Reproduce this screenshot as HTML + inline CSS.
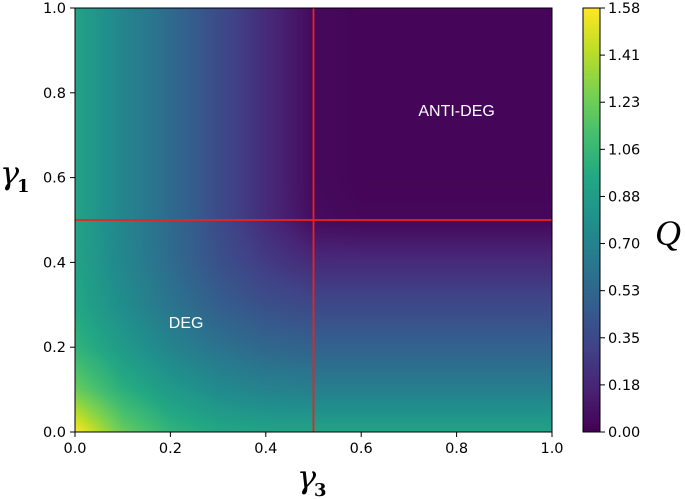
<!DOCTYPE html>
<html><head><meta charset="utf-8"><style>
body{margin:0;background:#fff;width:685px;height:499px;overflow:hidden;position:relative;font-family:"DejaVu Sans","Liberation Sans",sans-serif}
canvas,svg{position:absolute;left:0;top:0}
</style></head><body>
<canvas id="hm" width="685" height="499"></canvas>
<svg id="ov" width="685" height="499"></svg>
<script>
const gammaVals=[0,0.1,0.2,0.3,0.4,0.5,0.6,0.7,0.8,0.9,1.0];
// rows: gamma1 = 0..1 ; cols: gamma3 = 0..1
const qRow0 =[1.58,1.22,1.03,0.95,0.92,0.92,0.92,0.92,0.92,0.92,0.92];
const qRow1 =[1.22,1.00,0.86,0.76,0.70,0.68,0.68,0.68,0.68,0.68,0.68];
const qRow2 =[1.03,0.86,0.71,0.60,0.53,0.50,0.50,0.50,0.50,0.50,0.50];
const qRow3 =[0.95,0.77,0.61,0.48,0.39,0.35,0.35,0.35,0.35,0.35,0.35];
const qRow4 =[0.92,0.73,0.56,0.40,0.28,0.20,0.20,0.20,0.20,0.20,0.20];
const qRow5 =[0.92,0.72,0.55,0.37,0.20,0.05,0.03,0.03,0.03,0.03,0.03];
const qRow6 =[0.92,0.72,0.55,0.37,0.20,0.04,0.02,0.02,0.02,0.02,0.02];
const qRow7 =[0.92,0.72,0.55,0.37,0.20,0.04,0.02,0.02,0.02,0.02,0.02];
const qRow8 =[0.92,0.72,0.55,0.37,0.20,0.04,0.02,0.02,0.02,0.02,0.02];
const qRow9 =[0.92,0.72,0.55,0.37,0.20,0.04,0.02,0.02,0.02,0.02,0.02];
const qRow10=[0.92,0.72,0.55,0.37,0.20,0.04,0.02,0.02,0.02,0.02,0.02];
const qGrid=[qRow0,qRow1,qRow2,qRow3,qRow4,qRow5,qRow6,qRow7,qRow8,qRow9,qRow10];
const axisTicks=[0,0.2,0.4,0.6,0.8,1.0];
const axisTickLabels=["0.0","0.2","0.4","0.6","0.8","1.0"];
const cbarTickLabels=["0.00","0.18","0.35","0.53","0.70","0.88","1.06","1.23","1.41","1.58"];
const qMin=0,qMax=1.58;

const X0=75,X1=552,Y0=8,Y1=432;
const xs=v=>X0+v*(X1-X0), ys=v=>Y1-v*(Y1-Y0);
const vir=[[68,1,84],[72,35,116],[64,67,135],[52,94,141],[41,120,142],[32,144,140],[34,167,132],[68,190,112],[121,209,81],[189,222,38],[253,231,37]];
function cmap(t){t=Math.max(0,Math.min(1,t));const p=t*10,i=Math.min(9,Math.floor(p)),f=p-i;
 return vir[i].map((c,k)=>Math.round(c+(vir[i+1][k]-c)*f));}
function qAt(a,b){
 const n=gammaVals.length-1;const fx=a*n,fy=b*n;const i=Math.min(n-1,Math.floor(fx)),j=Math.min(n-1,Math.floor(fy));
 const tx=fx-i,ty=fy-j;
 return qGrid[j][i]*(1-tx)*(1-ty)+qGrid[j][i+1]*tx*(1-ty)+qGrid[j+1][i]*(1-tx)*ty+qGrid[j+1][i+1]*tx*ty;}
const ctx=document.getElementById('hm').getContext('2d');
const W=X1-X0,H=Y1-Y0,img=ctx.createImageData(W,H);
for(let y=0;y<H;y++)for(let x=0;x<W;x++){const c=cmap((qAt((x+0.5)/W,1-(y+0.5)/H)-qMin)/(qMax-qMin));const o=(y*W+x)*4;img.data[o]=c[0];img.data[o+1]=c[1];img.data[o+2]=c[2];img.data[o+3]=255;}
ctx.putImageData(img,X0,Y0);
const CX0=583,CX1=600,cb=ctx.createImageData(CX1-CX0,H);
for(let y=0;y<H;y++){const c=cmap(1-(y+0.5)/H);for(let x=0;x<CX1-CX0;x++){const o=(y*(CX1-CX0)+x)*4;cb.data[o]=c[0];cb.data[o+1]=c[1];cb.data[o+2]=c[2];cb.data[o+3]=255;}}
ctx.putImageData(cb,CX0,Y0);

const svg=document.getElementById('ov'),NS='http://www.w3.org/2000/svg';
function mk(t,a,txt){const e=document.createElementNS(NS,t);for(const k in a)e.setAttribute(k,a[k]);if(txt!==undefined)e.textContent=txt;svg.appendChild(e);return e;}
let e;
e=mk('line',{x1:xs(0.5),x2:xs(0.5),y1:Y0,y2:Y1,stroke:'#f2201a','stroke-width':1.8});

e=mk('line',{x1:X0,x2:X1,y1:ys(0.5),y2:ys(0.5),stroke:'#f2201a','stroke-width':1.8});

e=mk('rect',{x:X0,y:Y0,width:W,height:H,fill:'none',stroke:'#000','stroke-width':1});

e=mk('rect',{x:CX0,y:Y0,width:CX1-CX0,height:H,fill:'none',stroke:'#000','stroke-width':1});

axisTicks.forEach((v,i)=>{
 e=mk('line',{x1:xs(v),x2:xs(v),y1:Y1,y2:Y1+5,stroke:'#000'});
 
 e=mk('text',{x:xs(v),y:Y1+21,'text-anchor':'middle','font-size':14.5},axisTickLabels[i]);
 
 e=mk('line',{x1:X0-5,x2:X0,y1:ys(v),y2:ys(v),stroke:'#000'});
 
 e=mk('text',{x:X0-9,y:ys(v)+5,'text-anchor':'end','font-size':14.5},axisTickLabels[i]);
 
});
cbarTickLabels.forEach((l,i)=>{
 const y=Y1-i/(cbarTickLabels.length-1)*H;
 e=mk('line',{x1:CX1,x2:CX1+5,y1:y,y2:y,stroke:'#000'});
 
 e=mk('text',{x:CX1+8,y:y+5,'font-size':14.5},l);
 
});
e=mk('text',{x:xs(0.8),y:ys(0.745),'text-anchor':'middle','font-size':16,fill:'#fff','font-family':'Liberation Sans, sans-serif'},'ANTI-DEG');

e=mk('text',{x:xs(0.233),y:ys(0.245),'text-anchor':'middle','font-size':16,fill:'#fff','font-family':'Liberation Sans, sans-serif'},'DEG');

e=mk('text',{x:297,y:488,'font-size':32,'font-style':'italic','font-family':'DejaVu Serif, serif'},'γ');

mk('text',{x:314,y:496,'font-size':18,'font-weight':'bold','font-family':'DejaVu Serif, serif'},'3');
e=mk('text',{x:0,y:184,'font-size':32,'font-style':'italic','font-family':'DejaVu Serif, serif'},'γ');

mk('text',{x:17,y:192,'font-size':18,'font-weight':'bold','font-family':'DejaVu Serif, serif'},'1');
e=mk('text',{x:655,y:245,'font-size':36,'font-style':'italic','font-family':'Liberation Serif, serif'},'Q');

</script>
</body></html>
